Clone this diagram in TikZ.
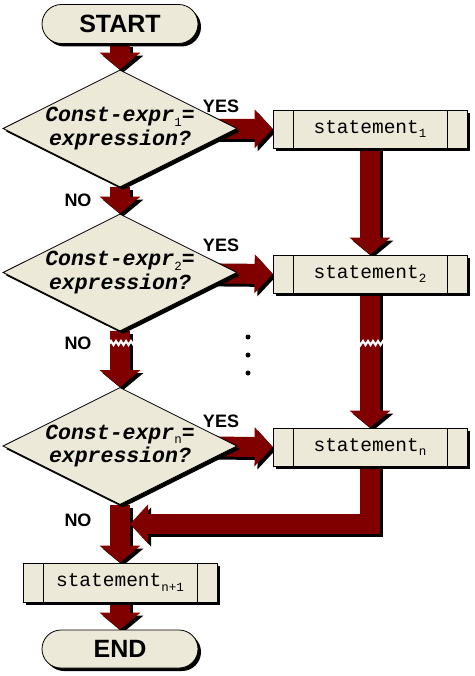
\documentclass[tikz,border=0pt]{standalone}
\usepackage{fontspec}
\setmainfont{Liberation Sans}
\newfontfamily\monofont{Liberation Mono}
\usetikzlibrary{shapes.geometric,shapes.misc,arrows.meta,backgrounds,shadows}
\definecolor{beige}{HTML}{ECE9D8}
\definecolor{arrred}{HTML}{800000}
\newcommand\lowsub[1]{\raisebox{-4.5pt}{\fontsize{12.5}{13}\selectfont\upshape\mdseries #1}}
\tikzset{
 shd/.style={drop shadow={shadow xshift=3pt,shadow yshift=-3pt,fill=black,opacity=1}},
 term/.style={rounded rectangle, draw=black, line width=0.8pt, fill=beige, shd,
   minimum width=156pt, minimum height=39pt, inner sep=0pt,
   font=\fontsize{25}{28}\selectfont\bfseries},
 decision/.style={diamond, draw=black, line width=0.8pt, fill=beige, shd,
   minimum width=228pt, minimum height=113pt, aspect=2, inner sep=0pt, align=center,
   font=\fontsize{21.5}{23.5}\monofont\bfseries\itshape},
 stmt/.style={rectangle, draw=black, line width=0.8pt, fill=beige, shd,
   minimum width=194pt, minimum height=38pt, inner sep=0pt,
   font=\fontsize{19.5}{22}\monofont,
   path picture={
     \draw[line width=0.8pt] ([xshift=20pt]path picture bounding box.north west) -- ([xshift=20pt]path picture bounding box.south west);
     \draw[line width=0.8pt] ([xshift=-20pt]path picture bounding box.north east) -- ([xshift=-20pt]path picture bounding box.south east);}},
 lbl/.style={font=\fontsize{18}{20}\selectfont\bfseries},
 vtip/.style={-{Triangle[width=40pt,length=17pt]}},
 htip/.style={-{Triangle[width=38pt,length=18pt]}},
}
\newcommand\myarrows{%
 \draw[flow,vtip] (start.south) -- (d1.north);
 \draw[flow,htip] (d1.center) -- (st1.west);
 \draw[flow,vtip] (d1.south) -- (d2.north);
 \draw[flow,htip] (d2.center) -- (st2.west);
 \draw[flow,vtip] (st1.south) -- (st2.north);
 \draw[flow,vtip] (d2.south) -- (dn.north);
 \draw[flow,vtip] (st2.south) -- (stn.north);
 \draw[flow,htip] (dn.center) -- (stn.west);
 \draw[flow,htip,line join=miter] (stn.south) |- (join);
 \draw[flow,vtip] (dn.south) -- (stn1.north);
 \draw[flow,vtip] (stn1.south) -- (end.north);
}
\newcommand\zigbreak{%
 \fill[white] (0,0) -- (2.5,4) -- (5,0) -- (7.5,4) -- (10,0) -- (12.5,4) -- (15,0) -- (17.5,4) -- (20,0) -- (22.5,4) -- (25,0) -- (27.5,4) -- (30,0)
  -- (30,4) -- (27.5,8) -- (25,4) -- (22.5,8) -- (20,4) -- (17.5,8) -- (15,4) -- (12.5,8) -- (10,4) -- (7.5,8) -- (5,4) -- (2.5,8) -- (0,4) -- cycle;
}
\begin{document}
\begin{tikzpicture}[x=1pt,y=-1pt]
\useasboundingbox (0,0) rectangle (474,676);
\node[term] (start) at (120,24) {START};
\node[decision] (d1) at (120,128.5) {Const-expr\lowsub{1}=\\expression?};
\node[decision] (d2) at (120,272.5) {Const-expr\lowsub{2}=\\expression?};
\node[decision] (dn) at (120,446) {Const-expr\lowsub{n}=\\expression?};
\node[stmt] (st1) at (370,129) {statement\lowsub{1}};
\node[stmt] (st2) at (370,274) {statement\lowsub{2}};
\node[stmt] (stn) at (370,447) {statement\lowsub{n}};
\node[stmt,minimum height=39pt] (stn1) at (120,582.5) {statement\lowsub{n+1}};
\node[term,minimum height=38pt] (end) at (120,649) {END};
\coordinate (join) at (130,524);
\node[lbl] (y1) at (221,106) {YES};
\node[lbl] (y2) at (221,245) {YES};
\node[lbl] (y3) at (221,421) {YES};
\node[lbl] (n1) at (78,200) {NO};
\node[lbl] (n2) at (78,343) {NO};
\node[lbl] (n3) at (78,520) {NO};
\fill (248,337) circle (2.5) (248,355) circle (2.5) (248,373) circle (2.5);
\begin{scope}[on background layer]
 \begin{scope}[transform canvas={xshift=3pt,yshift=-3pt},
   flow/.style={line width=20pt,draw=black}]
  \myarrows
 \end{scope}
 \begin{scope}[flow/.style={line width=20pt,draw=arrred}]
  \myarrows
 \end{scope}
 \begin{scope}[shift={(106,339)}] \zigbreak \end{scope}
 \begin{scope}[shift={(358,339)}] \zigbreak \end{scope}
\end{scope}
\end{tikzpicture}
\end{document}
